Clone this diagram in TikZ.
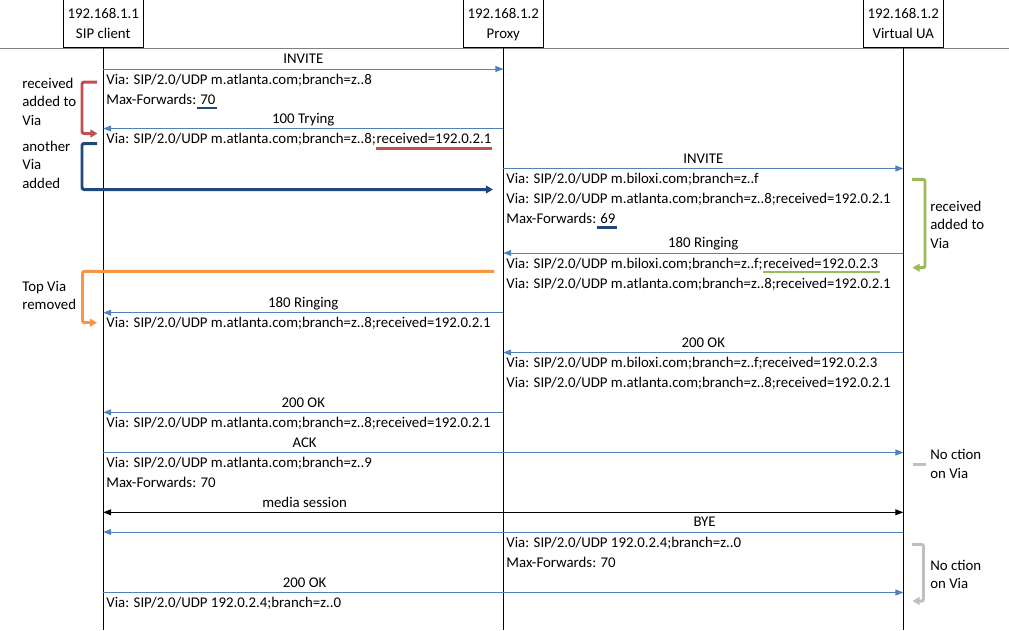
\documentclass[tikz,border=0pt]{standalone}
\usepackage{fontspec}
\setmainfont{Carlito}
\usetikzlibrary{arrows.meta}

\definecolor{msgblue}{HTML}{4F81BD}
\definecolor{hintred}{HTML}{C0504D}
\definecolor{hintblue}{HTML}{1F497D}
\definecolor{hintorange}{HTML}{F79646}
\definecolor{hintgreen}{HTML}{9BBB59}
\definecolor{hintgray}{HTML}{BFBFBF}

\newcommand{\partytext}[2]{\rule{0pt}{8.5pt}#1\\#2\rule[-2pt]{0pt}{2pt}}

\tikzset{
  party/.style={draw, minimum width=1.6cm, minimum height=1cm, anchor=south, align=center, inner sep=0pt,
    font=\fontsize{8.44}{11.1}\selectfont},
  msg/.style={draw=msgblue, line width=0.55pt, -{Triangle[length=4.5pt,width=3.4pt]}},
  msglabel/.style={anchor=base, inner sep=0pt, yshift=2.9pt},
  hdr/.style={anchor=base west, inner sep=0pt},
  uline/.style={line width=1.2pt},
  hint/.style={line width=1.7pt, rounded corners=1.2pt, -{Triangle[length=4pt,width=4.4pt]}},
  hintnote/.style={anchor=base west, inner sep=0pt, align=left, font=\fontsize{8.44}{10.25}\selectfont},
}

\begin{document}
\begin{tikzpicture}[x=0.02cm, y=-0.02cm, font=\fontsize{8.44}{10}\selectfont]
    \useasboundingbox (0,0) rectangle (1009,630);

    % parties and lifelines
    \node[party] (client) at (103.3,48) {\partytext{192.168.1.1}{SIP client}};
    \node[party] (proxy) at (503.3,48) {\partytext{192.168.1.2}{Proxy}};
    \node[party] (vua) at (903.3,48) {\partytext{192.168.1.2}{Virtual UA}};
    \draw[color=gray] (0,48) -- (1009,48);
    \foreach \p in {client, proxy, vua}
        \draw (\p.south) -- (\p.south |- 0,630);

    % INVITE
    \draw[msg] (client |- 0,69) -- node[msglabel] {INVITE} (proxy |- 0,69);
    \node[hdr] (via1) at (106,84) {Via: SIP/2.0/UDP m.atlanta.com;branch=z..8};
    \node[hdr] (maxf1) at (106,104) {Max-Forwards:};
    \node[hdr] (maxf1n) at (maxf1.base east) {\ 70};
    \draw[uline, hintblue] ([yshift=-2.3pt]maxf1n.base west) -- ([yshift=-2.3pt, xshift=1pt]maxf1n.base east);

    % 100 Trying
    \draw[msg] (proxy |- 0,128.5) -- node[msglabel] {100 Trying} (client |- 0,128.5);
    \node[hdr] (via2) at (106,143.5) {Via: SIP/2.0/UDP m.atlanta.com;branch=z..8;};
    \node[hdr] (via2r) at (via2.base east) {received=192.0.2.1};
    \draw[uline, hintred, line width=1.4pt] ([yshift=-2.9pt]via2r.base west) -- ([yshift=-2.9pt]via2r.base east);

    % INVITE forwarded
    \draw[msg] (proxy |- 0,168.5) -- node[msglabel] {INVITE} (vua |- 0,168.5);
    \node[hdr] (via3) at (506,183.5) {Via: SIP/2.0/UDP m.biloxi.com;branch=z..f};
    \node[hdr] (via4) at (506,203.5) {Via: SIP/2.0/UDP m.atlanta.com;branch=z..8;received=192.0.2.1};
    \node[hdr] (maxf2) at (506,223.5) {Max-Forwards:};
    \node[hdr] (maxf2n) at (maxf2.base east) {\ 69};
    \draw[uline, hintblue] ([yshift=-2.3pt]maxf2n.base west) -- ([yshift=-2.3pt, xshift=1pt]maxf2n.base east);

    % 180 Ringing
    \draw[msg] (vua |- 0,253) -- node[msglabel] {180 Ringing} (proxy |- 0,253);
    \node[hdr] (via5) at (506,268) {Via: SIP/2.0/UDP m.biloxi.com;branch=z..f;};
    \node[hdr] (via5r) at (via5.base east) {received=192.0.2.3};
    \draw[uline, hintgreen] ([yshift=-2.5pt]via5r.base west) -- ([yshift=-2.5pt, xshift=1pt]via5r.base east);
    \node[hdr] (via6) at (506,288) {Via: SIP/2.0/UDP m.atlanta.com;branch=z..8;received=192.0.2.1};
    \draw[msg] (proxy |- 0,312.7) -- node[msglabel] {180 Ringing} (client |- 0,312.7);
    \node[hdr] (via7) at (106,327.7) {Via: SIP/2.0/UDP m.atlanta.com;branch=z..8;received=192.0.2.1};

    % 200 OK
    \draw[msg] (vua |- 0,352.5) -- node[msglabel] {200 OK} (proxy |- 0,352.5);
    \node[hdr] (via8) at (506,367.5) {Via: SIP/2.0/UDP m.biloxi.com;branch=z..f;received=192.0.2.3};
    \node[hdr] (via9) at (506,387.5) {Via: SIP/2.0/UDP m.atlanta.com;branch=z..8;received=192.0.2.1};
    \draw[msg] (proxy |- 0,412.3) -- node[msglabel] {200 OK} (client |- 0,412.3);
    \node[hdr] (via10) at (106,427.3) {Via: SIP/2.0/UDP m.atlanta.com;branch=z..8;received=192.0.2.1};

    % ACK, media, BYE
    \draw[msg] (client |- 0,452.5) -- node[msglabel, pos=0.2516] {ACK} (vua |- 0,452.5);
    \node[hdr] (via11) at (106,467.5) {Via: SIP/2.0/UDP m.atlanta.com;branch=z..9};
    \node[hdr] (maxf3) at (106,487.5) {Max-Forwards: 70};
    \draw[line width=0.55pt, {Triangle[length=4.5pt,width=3.4pt]}-{Triangle[length=4.5pt,width=3.4pt]}]
        (client |- 0,512.3) -- node[msglabel, pos=0.2516] {media session} (vua |- 0,512.3);
    \draw[msg] (vua |- 0,532) -- node[msglabel, pos=0.2484] {BYE} (client |- 0,532);
    \node[hdr] (via12) at (506,547) {Via: SIP/2.0/UDP 192.0.2.4;branch=z..0};
    \node[hdr] (maxf4) at (506,567) {Max-Forwards: 70};
    \draw[msg] (client |- 0,592.5) -- node[msglabel, pos=0.2516] {200 OK} (vua |- 0,592.5);
    \node[hdr] (via13) at (106,607.5) {Via: SIP/2.0/UDP 192.0.2.4;branch=z..0};

    % notes on the Via handling (anchored at the last line)
    \draw[hint, hintred] (97,82) -- (82,82) -- (82,133.5) -- (97.5,133.5);
    \node[hintnote] (note1) at (22,125) {received\\added to\\Via};
    \draw[hint, hintblue] (97,143.5) -- (82,143.5) -- (82,189.5) -- (493,189.5);
    \node[hintnote] (note2) at (22,188) {another\\Via\\added};
    \draw[hint, hintorange] (494,271.3) -- (82.5,271.3) -- (82.5,322.7) -- (97,322.7);
    \node[hintnote] (note3) at (22,309.5) {Top Via\\removed};
    \draw[hint, hintgreen] (912,179.3) -- (925,179.3) -- (925,267.7) -- (912.5,267.7);
    \node[hintnote] (note4) at (930,248) {received\\added to\\Via};
    \draw[line width=1.7pt, hintgray] (912.7,464) -- (926,464);
    \node[hintnote] (note5) at (930,478) {No ction\\on Via};
    \draw[hint, hintgray] (912,544.3) -- (923.5,544.3) -- (923.5,601) -- (912.5,601);
    \node[hintnote] (note6) at (930,588) {No ction\\on Via};

\end{tikzpicture}
\end{document}
